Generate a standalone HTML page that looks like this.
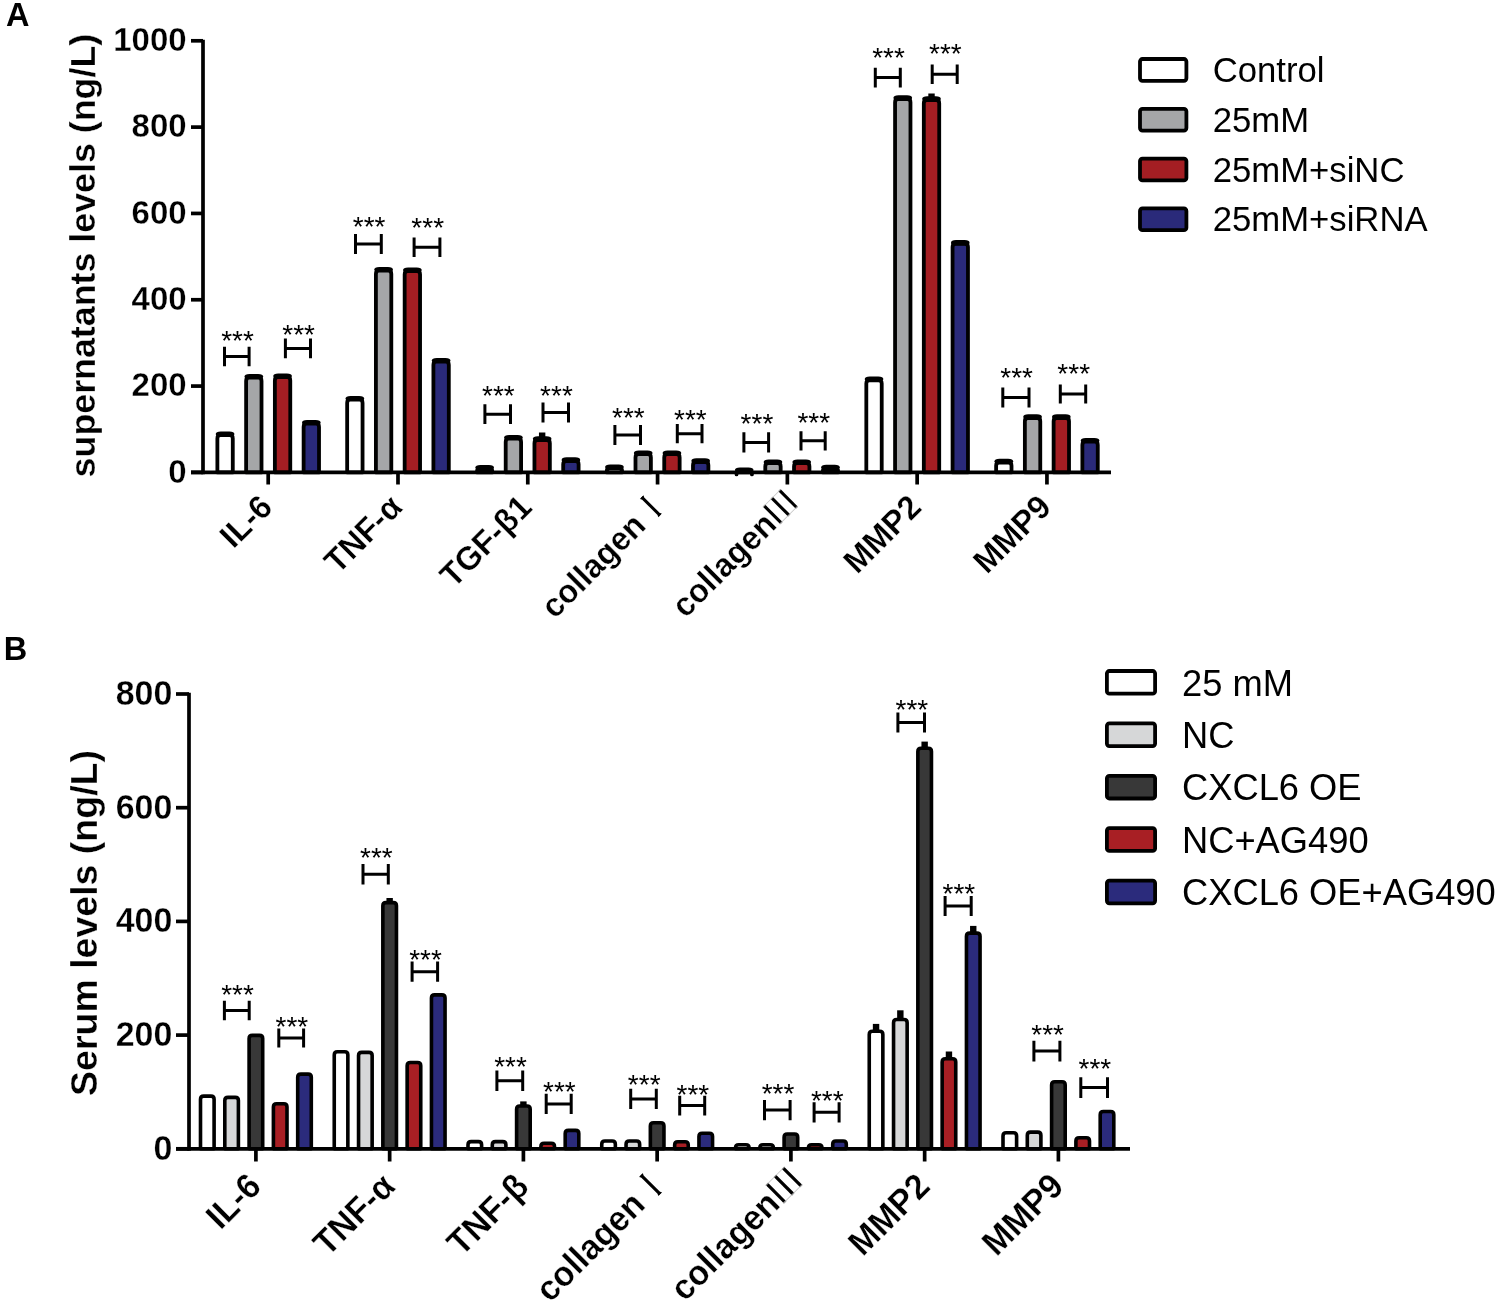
<!DOCTYPE html>
<html><head><meta charset="utf-8"><title>chart</title>
<style>
html,body{margin:0;padding:0;background:#fff;width:1500px;height:1305px;overflow:hidden;}
svg{display:block;filter:blur(0.45px);}
</style></head><body>
<svg width="1500" height="1305" viewBox="0 0 1500 1305">
<rect width="1500" height="1305" fill="#fff"/>
<text x="6" y="26.2" font-family="'Liberation Sans', sans-serif" font-weight="bold" font-size="32.5" fill="#000">A</text>
<line x1="191" y1="472.4" x2="203" y2="472.4" stroke="#000" stroke-width="3.7" stroke-linecap="butt"/>
<text x="186.6" y="482.7" font-family="'Liberation Sans', sans-serif" font-weight="bold" stroke="#fff" stroke-width="0.3" font-size="33" text-anchor="end" fill="#000" >0</text>
<line x1="191" y1="386.08" x2="203" y2="386.08" stroke="#000" stroke-width="3.7" stroke-linecap="butt"/>
<text x="186.6" y="396.38" font-family="'Liberation Sans', sans-serif" font-weight="bold" stroke="#fff" stroke-width="0.3" font-size="33" text-anchor="end" fill="#000" >200</text>
<line x1="191" y1="299.76" x2="203" y2="299.76" stroke="#000" stroke-width="3.7" stroke-linecap="butt"/>
<text x="186.6" y="310.06" font-family="'Liberation Sans', sans-serif" font-weight="bold" stroke="#fff" stroke-width="0.3" font-size="33" text-anchor="end" fill="#000" >400</text>
<line x1="191" y1="213.44" x2="203" y2="213.44" stroke="#000" stroke-width="3.7" stroke-linecap="butt"/>
<text x="186.6" y="223.74" font-family="'Liberation Sans', sans-serif" font-weight="bold" stroke="#fff" stroke-width="0.3" font-size="33" text-anchor="end" fill="#000" >600</text>
<line x1="191" y1="127.12" x2="203" y2="127.12" stroke="#000" stroke-width="3.7" stroke-linecap="butt"/>
<text x="186.6" y="137.42" font-family="'Liberation Sans', sans-serif" font-weight="bold" stroke="#fff" stroke-width="0.3" font-size="33" text-anchor="end" fill="#000" >800</text>
<line x1="191" y1="40.8" x2="203" y2="40.8" stroke="#000" stroke-width="3.7" stroke-linecap="butt"/>
<text x="186.6" y="51.1" font-family="'Liberation Sans', sans-serif" font-weight="bold" stroke="#fff" stroke-width="0.3" font-size="33" text-anchor="end" fill="#000" >1000</text>
<text x="0" y="0" font-family="'Liberation Sans', sans-serif" font-weight="bold" stroke="#fff" stroke-width="0.3" font-size="35.8" text-anchor="middle" fill="#000" transform="translate(94.5,255.6) rotate(-90)">supernatants levels (ng/L)</text>
<path d="M217.38,472.4 V438.4 Q217.38,435.2 220.57,435.2 H229.58 Q232.78,435.2 232.78,438.4 V472.4 Z" fill="#ffffff" stroke="#000" stroke-width="3.8" stroke-linejoin="round"/>
<rect x="215.78" y="431.4" width="18.6" height="5.2" rx="5" ry="3.6" fill="#000"/>
<path d="M246.12,472.4 V380.9 Q246.12,377.7 249.32,377.7 H258.32 Q261.52,377.7 261.52,380.9 V472.4 Z" fill="#a5a6a8" stroke="#000" stroke-width="3.8" stroke-linejoin="round"/>
<rect x="244.53" y="373.9" width="18.6" height="5.2" rx="5" ry="3.6" fill="#000"/>
<path d="M274.87,472.4 V380.4 Q274.87,377.2 278.07,377.2 H287.07 Q290.27,377.2 290.27,380.4 V472.4 Z" fill="#a41e23" stroke="#000" stroke-width="3.8" stroke-linejoin="round"/>
<rect x="273.27" y="373.4" width="18.6" height="5.2" rx="5" ry="3.6" fill="#000"/>
<path d="M303.62,472.4 V426.9 Q303.62,423.7 306.82,423.7 H315.82 Q319.02,423.7 319.02,426.9 V472.4 Z" fill="#2a2a7a" stroke="#000" stroke-width="3.8" stroke-linejoin="round"/>
<rect x="302.02" y="419.9" width="18.6" height="5.2" rx="5" ry="3.6" fill="#000"/>
<path d="M347.16,472.4 V402.9 Q347.16,399.7 350.36,399.7 H359.36 Q362.56,399.7 362.56,402.9 V472.4 Z" fill="#ffffff" stroke="#000" stroke-width="3.8" stroke-linejoin="round"/>
<rect x="345.56" y="395.9" width="18.6" height="5.2" rx="5" ry="3.6" fill="#000"/>
<path d="M375.91,472.4 V273.9 Q375.91,270.7 379.11,270.7 H388.11 Q391.31,270.7 391.31,273.9 V472.4 Z" fill="#a5a6a8" stroke="#000" stroke-width="3.8" stroke-linejoin="round"/>
<rect x="374.31" y="266.9" width="18.6" height="5.2" rx="5" ry="3.6" fill="#000"/>
<path d="M404.66,472.4 V274.4 Q404.66,271.2 407.86,271.2 H416.86 Q420.06,271.2 420.06,274.4 V472.4 Z" fill="#a41e23" stroke="#000" stroke-width="3.8" stroke-linejoin="round"/>
<rect x="403.06" y="267.4" width="18.6" height="5.2" rx="5" ry="3.6" fill="#000"/>
<path d="M433.41,472.4 V364.9 Q433.41,361.7 436.61,361.7 H445.61 Q448.81,361.7 448.81,364.9 V472.4 Z" fill="#2a2a7a" stroke="#000" stroke-width="3.8" stroke-linejoin="round"/>
<rect x="431.81" y="357.9" width="18.6" height="5.2" rx="5" ry="3.6" fill="#000"/>
<path d="M476.95,472.4 V471.9 Q476.95,468.7 480.15,468.7 H489.15 Q492.35,468.7 492.35,471.9 V472.4 Z" fill="#ffffff" stroke="#000" stroke-width="3.8" stroke-linejoin="round"/>
<rect x="475.35" y="464.9" width="18.6" height="5.2" rx="5" ry="3.6" fill="#000"/>
<path d="M505.7,472.4 V441.9 Q505.7,438.7 508.9,438.7 H517.9 Q521.1,438.7 521.1,441.9 V472.4 Z" fill="#a5a6a8" stroke="#000" stroke-width="3.8" stroke-linejoin="round"/>
<rect x="504.1" y="434.9" width="18.6" height="5.2" rx="5" ry="3.6" fill="#000"/>
<path d="M534.45,472.4 V443.2 Q534.45,440 537.65,440 H546.65 Q549.85,440 549.85,443.2 V472.4 Z" fill="#a41e23" stroke="#000" stroke-width="3.8" stroke-linejoin="round"/>
<rect x="532.85" y="436.2" width="18.6" height="5.2" rx="5" ry="3.6" fill="#000"/>
<rect x="538.95" y="432.5" width="6.4" height="8.5" fill="#000"/>
<path d="M563.2,472.4 V464.3 Q563.2,461.1 566.4,461.1 H575.4 Q578.6,461.1 578.6,464.3 V472.4 Z" fill="#2a2a7a" stroke="#000" stroke-width="3.8" stroke-linejoin="round"/>
<rect x="561.6" y="457.3" width="18.6" height="5.2" rx="5" ry="3.6" fill="#000"/>
<path d="M606.74,472.4 V471.4 Q606.74,468.2 609.94,468.2 H618.94 Q622.14,468.2 622.14,471.4 V472.4 Z" fill="#ffffff" stroke="#000" stroke-width="3.8" stroke-linejoin="round"/>
<rect x="605.14" y="464.4" width="18.6" height="5.2" rx="5" ry="3.6" fill="#000"/>
<path d="M635.49,472.4 V457.4 Q635.49,454.2 638.69,454.2 H647.69 Q650.89,454.2 650.89,457.4 V472.4 Z" fill="#a5a6a8" stroke="#000" stroke-width="3.8" stroke-linejoin="round"/>
<rect x="633.89" y="450.4" width="18.6" height="5.2" rx="5" ry="3.6" fill="#000"/>
<path d="M664.24,472.4 V457.4 Q664.24,454.2 667.44,454.2 H676.44 Q679.64,454.2 679.64,457.4 V472.4 Z" fill="#a41e23" stroke="#000" stroke-width="3.8" stroke-linejoin="round"/>
<rect x="662.64" y="450.4" width="18.6" height="5.2" rx="5" ry="3.6" fill="#000"/>
<path d="M692.99,472.4 V465.2 Q692.99,462 696.19,462 H705.19 Q708.39,462 708.39,465.2 V472.4 Z" fill="#2a2a7a" stroke="#000" stroke-width="3.8" stroke-linejoin="round"/>
<rect x="691.39" y="458.2" width="18.6" height="5.2" rx="5" ry="3.6" fill="#000"/>
<path d="M736.53,472.4 V474.4 Q736.53,471.2 739.73,471.2 H748.73 Q751.93,471.2 751.93,474.4 V472.4 Z" fill="#ffffff" stroke="#000" stroke-width="3.8" stroke-linejoin="round"/>
<rect x="734.93" y="467.4" width="18.6" height="5.2" rx="5" ry="3.6" fill="#000"/>
<path d="M765.28,472.4 V466.4 Q765.28,463.2 768.48,463.2 H777.48 Q780.68,463.2 780.68,466.4 V472.4 Z" fill="#a5a6a8" stroke="#000" stroke-width="3.8" stroke-linejoin="round"/>
<rect x="763.68" y="459.4" width="18.6" height="5.2" rx="5" ry="3.6" fill="#000"/>
<path d="M794.03,472.4 V466.4 Q794.03,463.2 797.23,463.2 H806.23 Q809.43,463.2 809.43,466.4 V472.4 Z" fill="#a41e23" stroke="#000" stroke-width="3.8" stroke-linejoin="round"/>
<rect x="792.43" y="459.4" width="18.6" height="5.2" rx="5" ry="3.6" fill="#000"/>
<path d="M822.78,472.4 V471.7 Q822.78,468.5 825.98,468.5 H834.98 Q838.18,468.5 838.18,471.7 V472.4 Z" fill="#2a2a7a" stroke="#000" stroke-width="3.8" stroke-linejoin="round"/>
<rect x="821.18" y="464.7" width="18.6" height="5.2" rx="5" ry="3.6" fill="#000"/>
<path d="M866.32,472.4 V383.5 Q866.32,380.3 869.52,380.3 H878.52 Q881.72,380.3 881.72,383.5 V472.4 Z" fill="#ffffff" stroke="#000" stroke-width="3.8" stroke-linejoin="round"/>
<rect x="864.72" y="376.5" width="18.6" height="5.2" rx="5" ry="3.6" fill="#000"/>
<path d="M895.07,472.4 V102.2 Q895.07,99 898.27,99 H907.27 Q910.47,99 910.47,102.2 V472.4 Z" fill="#a5a6a8" stroke="#000" stroke-width="3.8" stroke-linejoin="round"/>
<rect x="893.47" y="95.2" width="18.6" height="5.2" rx="5" ry="3.6" fill="#000"/>
<path d="M923.82,472.4 V103.2 Q923.82,100 927.02,100 H936.02 Q939.22,100 939.22,103.2 V472.4 Z" fill="#a41e23" stroke="#000" stroke-width="3.8" stroke-linejoin="round"/>
<rect x="922.22" y="96.2" width="18.6" height="5.2" rx="5" ry="3.6" fill="#000"/>
<rect x="928.32" y="93.5" width="6.4" height="7.5" fill="#000"/>
<path d="M952.57,472.4 V247.1 Q952.57,243.9 955.77,243.9 H964.77 Q967.97,243.9 967.97,247.1 V472.4 Z" fill="#2a2a7a" stroke="#000" stroke-width="3.8" stroke-linejoin="round"/>
<rect x="950.97" y="240.1" width="18.6" height="5.2" rx="5" ry="3.6" fill="#000"/>
<path d="M996.12,472.4 V465.7 Q996.12,462.5 999.32,462.5 H1008.31 Q1011.51,462.5 1011.51,465.7 V472.4 Z" fill="#ffffff" stroke="#000" stroke-width="3.8" stroke-linejoin="round"/>
<rect x="994.51" y="458.7" width="18.6" height="5.2" rx="5" ry="3.6" fill="#000"/>
<path d="M1024.87,472.4 V421.2 Q1024.87,418 1028.07,418 H1037.07 Q1040.27,418 1040.27,421.2 V472.4 Z" fill="#a5a6a8" stroke="#000" stroke-width="3.8" stroke-linejoin="round"/>
<rect x="1023.26" y="414.2" width="18.6" height="5.2" rx="5" ry="3.6" fill="#000"/>
<path d="M1053.62,472.4 V421.2 Q1053.62,418 1056.82,418 H1065.82 Q1069.02,418 1069.02,421.2 V472.4 Z" fill="#a41e23" stroke="#000" stroke-width="3.8" stroke-linejoin="round"/>
<rect x="1052.02" y="414.2" width="18.6" height="5.2" rx="5" ry="3.6" fill="#000"/>
<path d="M1082.37,472.4 V444.9 Q1082.37,441.7 1085.57,441.7 H1094.57 Q1097.77,441.7 1097.77,444.9 V472.4 Z" fill="#2a2a7a" stroke="#000" stroke-width="3.8" stroke-linejoin="round"/>
<rect x="1080.77" y="437.9" width="18.6" height="5.2" rx="5" ry="3.6" fill="#000"/>
<line x1="203" y1="39.85" x2="203" y2="474.25" stroke="#000" stroke-width="3.7" stroke-linecap="butt"/>
<line x1="191" y1="472.4" x2="1111" y2="472.4" stroke="#000" stroke-width="3.7" stroke-linecap="butt"/>
<line x1="268.2" y1="472.4" x2="268.2" y2="484.5" stroke="#000" stroke-width="3.7" stroke-linecap="butt"/>
<line x1="397.99" y1="472.4" x2="397.99" y2="484.5" stroke="#000" stroke-width="3.7" stroke-linecap="butt"/>
<line x1="527.78" y1="472.4" x2="527.78" y2="484.5" stroke="#000" stroke-width="3.7" stroke-linecap="butt"/>
<line x1="657.57" y1="472.4" x2="657.57" y2="484.5" stroke="#000" stroke-width="3.7" stroke-linecap="butt"/>
<line x1="787.36" y1="472.4" x2="787.36" y2="484.5" stroke="#000" stroke-width="3.7" stroke-linecap="butt"/>
<line x1="917.15" y1="472.4" x2="917.15" y2="484.5" stroke="#000" stroke-width="3.7" stroke-linecap="butt"/>
<line x1="1046.94" y1="472.4" x2="1046.94" y2="484.5" stroke="#000" stroke-width="3.7" stroke-linecap="butt"/>
<path d="M224.5,346.7 V366.2 M249.1,346.7 V366.2 M224.5,356.45 H249.1" fill="none" stroke="#000" stroke-width="3"/>
<text x="237.5" y="349.92" font-family="'Liberation Sans', sans-serif" font-size="28" text-anchor="middle" fill="#000">***</text>
<path d="M285.4,338.6 V358.2 M310.5,338.6 V358.2 M285.4,348.4 H310.5" fill="none" stroke="#000" stroke-width="3"/>
<text x="298.65" y="344.12" font-family="'Liberation Sans', sans-serif" font-size="28" text-anchor="middle" fill="#000">***</text>
<path d="M355.5,234 V254 M381.3,234 V254 M355.5,244 H381.3" fill="none" stroke="#000" stroke-width="3"/>
<text x="369.1" y="236.12" font-family="'Liberation Sans', sans-serif" font-size="28" text-anchor="middle" fill="#000">***</text>
<path d="M414.1,237.5 V257 M439.9,237.5 V257 M414.1,247.25 H439.9" fill="none" stroke="#000" stroke-width="3"/>
<text x="427.7" y="237.32" font-family="'Liberation Sans', sans-serif" font-size="28" text-anchor="middle" fill="#000">***</text>
<path d="M484.9,404.2 V424.1 M510.5,404.2 V424.1 M484.9,414.15 H510.5" fill="none" stroke="#000" stroke-width="3"/>
<text x="498.4" y="405.32" font-family="'Liberation Sans', sans-serif" font-size="28" text-anchor="middle" fill="#000">***</text>
<path d="M543,402.5 V422.4 M568.5,402.5 V422.4 M543,412.45 H568.5" fill="none" stroke="#000" stroke-width="3"/>
<text x="556.45" y="405.32" font-family="'Liberation Sans', sans-serif" font-size="28" text-anchor="middle" fill="#000">***</text>
<path d="M614.9,425 V444.9 M640.5,425 V444.9 M614.9,434.95 H640.5" fill="none" stroke="#000" stroke-width="3"/>
<text x="628.4" y="427.02" font-family="'Liberation Sans', sans-serif" font-size="28" text-anchor="middle" fill="#000">***</text>
<path d="M677.3,424.1 V443.2 M702,424.1 V443.2 M677.3,433.65 H702" fill="none" stroke="#000" stroke-width="3"/>
<text x="690.35" y="428.72" font-family="'Liberation Sans', sans-serif" font-size="28" text-anchor="middle" fill="#000">***</text>
<path d="M743.9,432.3 V452.5 M768.6,432.3 V452.5 M743.9,442.4 H768.6" fill="none" stroke="#000" stroke-width="3"/>
<text x="756.95" y="433.42" font-family="'Liberation Sans', sans-serif" font-size="28" text-anchor="middle" fill="#000">***</text>
<path d="M801,431.2 V450.4 M825.2,431.2 V450.4 M801,440.8 H825.2" fill="none" stroke="#000" stroke-width="3"/>
<text x="813.8" y="432.32" font-family="'Liberation Sans', sans-serif" font-size="28" text-anchor="middle" fill="#000">***</text>
<path d="M875.3,67.8 V87.4 M900.3,67.8 V87.4 M875.3,77.6 H900.3" fill="none" stroke="#000" stroke-width="3"/>
<text x="888.5" y="66.62" font-family="'Liberation Sans', sans-serif" font-size="28" text-anchor="middle" fill="#000">***</text>
<path d="M932.2,64.5 V84.1 M957.2,64.5 V84.1 M932.2,74.3 H957.2" fill="none" stroke="#000" stroke-width="3"/>
<text x="945.4" y="63.32" font-family="'Liberation Sans', sans-serif" font-size="28" text-anchor="middle" fill="#000">***</text>
<path d="M1002.8,387.5 V407.4 M1029,387.5 V407.4 M1002.8,397.45 H1029" fill="none" stroke="#000" stroke-width="3"/>
<text x="1016.6" y="386.92" font-family="'Liberation Sans', sans-serif" font-size="28" text-anchor="middle" fill="#000">***</text>
<path d="M1060.3,384.4 V403.6 M1085.7,384.4 V403.6 M1060.3,394 H1085.7" fill="none" stroke="#000" stroke-width="3"/>
<text x="1073.7" y="383.12" font-family="'Liberation Sans', sans-serif" font-size="28" text-anchor="middle" fill="#000">***</text>
<g transform="translate(274.2,509) rotate(-45)"><g transform="scale(0.97,1)"><text x="0" y="0" font-family="'Liberation Sans', sans-serif" font-weight="bold" stroke="#fff" stroke-width="0.3" font-size="33.3" text-anchor="end" fill="#000">IL-6</text></g></g>
<g transform="translate(403.99,509) rotate(-45)"><g transform="scale(0.97,1)"><text x="0" y="0" font-family="'Liberation Sans', sans-serif" font-weight="bold" stroke="#fff" stroke-width="0.3" font-size="33.3" text-anchor="end" fill="#000">TNF-α</text></g></g>
<g transform="translate(533.78,509) rotate(-45)"><g transform="scale(0.97,1)"><text x="0" y="0" font-family="'Liberation Sans', sans-serif" font-weight="bold" stroke="#fff" stroke-width="0.3" font-size="33.3" text-anchor="end" fill="#000">TGF-β1</text></g></g>
<g transform="translate(663.57,511) rotate(-45)"><g transform="scale(0.97,1)"><text x="-23.59" y="0" font-family="'Liberation Sans', sans-serif" font-weight="bold" stroke="#fff" stroke-width="0.3" font-size="33.3" text-anchor="end" fill="#000">collagen</text></g><rect x="-7.1" y="-25.3" width="3" height="25.9" fill="#000"/><path d="M-8.2,-25.3 H-3 L-4.1,-23.5 H-7.1 Z" fill="#000"/><path d="M-8.2,0.6 H-3 L-4.1,-1.2 H-7.1 Z" fill="#000"/></g>
<g transform="translate(793.36,511) rotate(-45)"><g transform="scale(0.97,1)"><text x="-22.26" y="0" font-family="'Liberation Sans', sans-serif" font-weight="bold" stroke="#fff" stroke-width="0.3" font-size="33.3" text-anchor="end" fill="#000">collagen</text></g><rect x="-18.55" y="-24.6" width="3.1" height="24.8" fill="#000"/><rect x="-7.65" y="-24.6" width="3.1" height="24.8" fill="#000"/><rect x="3.25" y="-24.6" width="3.1" height="24.8" fill="#000"/><rect x="-19" y="-24.6" width="25.6" height="0.8" fill="#c4c4c4"/><rect x="-19" y="-0.8" width="25.6" height="0.8" fill="#c4c4c4"/></g>
<g transform="translate(923.15,509) rotate(-45)"><g transform="scale(0.97,1)"><text x="0" y="0" font-family="'Liberation Sans', sans-serif" font-weight="bold" stroke="#fff" stroke-width="0.3" font-size="33.3" text-anchor="end" fill="#000">MMP2</text></g></g>
<g transform="translate(1052.94,509) rotate(-45)"><g transform="scale(0.97,1)"><text x="0" y="0" font-family="'Liberation Sans', sans-serif" font-weight="bold" stroke="#fff" stroke-width="0.3" font-size="33.3" text-anchor="end" fill="#000">MMP9</text></g></g>
<rect x="1140" y="59" width="46.4" height="21.8" rx="2.5" fill="#ffffff" stroke="#000" stroke-width="3.8"/>
<text x="1212.7" y="82" font-family="'Liberation Sans', sans-serif" font-size="34.7" text-anchor="start" fill="#000" >Control</text>
<rect x="1140" y="108.8" width="46.4" height="21.8" rx="2.5" fill="#a5a6a8" stroke="#000" stroke-width="3.8"/>
<text x="1212.7" y="131.8" font-family="'Liberation Sans', sans-serif" font-size="34.7" text-anchor="start" fill="#000" >25mM</text>
<rect x="1140" y="158.6" width="46.4" height="21.8" rx="2.5" fill="#a41e23" stroke="#000" stroke-width="3.8"/>
<text x="1212.7" y="181.6" font-family="'Liberation Sans', sans-serif" font-size="34.7" text-anchor="start" fill="#000" >25mM+siNC</text>
<rect x="1140" y="208.4" width="46.4" height="21.8" rx="2.5" fill="#2a2a7a" stroke="#000" stroke-width="3.8"/>
<text x="1212.7" y="231.4" font-family="'Liberation Sans', sans-serif" font-size="34.7" text-anchor="start" fill="#000" >25mM+siRNA</text>
<text x="3.7" y="660" font-family="'Liberation Sans', sans-serif" font-weight="bold" font-size="32.5" fill="#000">B</text>
<line x1="176" y1="1148.8" x2="189" y2="1148.8" stroke="#000" stroke-width="3.7" stroke-linecap="butt"/>
<text x="0" y="0" font-family="'Liberation Sans', sans-serif" font-weight="bold" stroke="#fff" stroke-width="0.3" font-size="35" text-anchor="end" fill="#000" transform="translate(172.3,1159.8) scale(0.97,1)">0</text>
<line x1="176" y1="1035.1" x2="189" y2="1035.1" stroke="#000" stroke-width="3.7" stroke-linecap="butt"/>
<text x="0" y="0" font-family="'Liberation Sans', sans-serif" font-weight="bold" stroke="#fff" stroke-width="0.3" font-size="35" text-anchor="end" fill="#000" transform="translate(172.3,1046.1) scale(0.97,1)">200</text>
<line x1="176" y1="921.4" x2="189" y2="921.4" stroke="#000" stroke-width="3.7" stroke-linecap="butt"/>
<text x="0" y="0" font-family="'Liberation Sans', sans-serif" font-weight="bold" stroke="#fff" stroke-width="0.3" font-size="35" text-anchor="end" fill="#000" transform="translate(172.3,932.4) scale(0.97,1)">400</text>
<line x1="176" y1="807.7" x2="189" y2="807.7" stroke="#000" stroke-width="3.7" stroke-linecap="butt"/>
<text x="0" y="0" font-family="'Liberation Sans', sans-serif" font-weight="bold" stroke="#fff" stroke-width="0.3" font-size="35" text-anchor="end" fill="#000" transform="translate(172.3,818.7) scale(0.97,1)">600</text>
<line x1="176" y1="694" x2="189" y2="694" stroke="#000" stroke-width="3.7" stroke-linecap="butt"/>
<text x="0" y="0" font-family="'Liberation Sans', sans-serif" font-weight="bold" stroke="#fff" stroke-width="0.3" font-size="35" text-anchor="end" fill="#000" transform="translate(172.3,705) scale(0.97,1)">800</text>
<text x="0" y="0" font-family="'Liberation Sans', sans-serif" font-weight="bold" stroke="#fff" stroke-width="0.3" font-size="37.5" text-anchor="middle" fill="#000" transform="translate(96.5,923) rotate(-90)">Serum levels (ng/L)</text>
<path d="M200.5,1148.8 V1099.3 Q200.5,1096.1 203.7,1096.1 H210.9 Q214.1,1096.1 214.1,1099.3 V1148.8 Z" fill="#ffffff" stroke="#000" stroke-width="3.6" stroke-linejoin="round"/>
<path d="M224.8,1148.8 V1100.6 Q224.8,1097.4 228,1097.4 H235.2 Q238.4,1097.4 238.4,1100.6 V1148.8 Z" fill="#d6d7d8" stroke="#000" stroke-width="3.6" stroke-linejoin="round"/>
<path d="M249.1,1148.8 V1038.6 Q249.1,1035.4 252.3,1035.4 H259.5 Q262.7,1035.4 262.7,1038.6 V1148.8 Z" fill="#383838" stroke="#000" stroke-width="3.6" stroke-linejoin="round"/>
<path d="M273.4,1148.8 V1106.9 Q273.4,1103.7 276.6,1103.7 H283.8 Q287,1103.7 287,1106.9 V1148.8 Z" fill="#a81f24" stroke="#000" stroke-width="3.6" stroke-linejoin="round"/>
<path d="M297.7,1148.8 V1077.3 Q297.7,1074.1 300.9,1074.1 H308.1 Q311.3,1074.1 311.3,1077.3 V1148.8 Z" fill="#2b2b7c" stroke="#000" stroke-width="3.6" stroke-linejoin="round"/>
<path d="M334.25,1148.8 V1055 Q334.25,1051.8 337.45,1051.8 H344.65 Q347.85,1051.8 347.85,1055 V1148.8 Z" fill="#ffffff" stroke="#000" stroke-width="3.6" stroke-linejoin="round"/>
<path d="M358.55,1148.8 V1055.6 Q358.55,1052.4 361.75,1052.4 H368.95 Q372.15,1052.4 372.15,1055.6 V1148.8 Z" fill="#d6d7d8" stroke="#000" stroke-width="3.6" stroke-linejoin="round"/>
<path d="M382.85,1148.8 V905.8 Q382.85,902.6 386.05,902.6 H393.25 Q396.45,902.6 396.45,905.8 V1148.8 Z" fill="#383838" stroke="#000" stroke-width="3.6" stroke-linejoin="round"/>
<rect x="386.45" y="898" width="6.4" height="5.6" fill="#000"/>
<path d="M407.15,1148.8 V1065.7 Q407.15,1062.5 410.35,1062.5 H417.55 Q420.75,1062.5 420.75,1065.7 V1148.8 Z" fill="#a81f24" stroke="#000" stroke-width="3.6" stroke-linejoin="round"/>
<path d="M431.45,1148.8 V998.1 Q431.45,994.9 434.65,994.9 H441.85 Q445.05,994.9 445.05,998.1 V1148.8 Z" fill="#2b2b7c" stroke="#000" stroke-width="3.6" stroke-linejoin="round"/>
<path d="M468,1148.8 V1144.8 Q468,1141.6 471.2,1141.6 H478.4 Q481.6,1141.6 481.6,1144.8 V1148.8 Z" fill="#ffffff" stroke="#000" stroke-width="3.6" stroke-linejoin="round"/>
<path d="M492.3,1148.8 V1144.8 Q492.3,1141.6 495.5,1141.6 H502.7 Q505.9,1141.6 505.9,1144.8 V1148.8 Z" fill="#d6d7d8" stroke="#000" stroke-width="3.6" stroke-linejoin="round"/>
<path d="M516.6,1148.8 V1109.2 Q516.6,1106 519.8,1106 H527 Q530.2,1106 530.2,1109.2 V1148.8 Z" fill="#383838" stroke="#000" stroke-width="3.6" stroke-linejoin="round"/>
<rect x="520.2" y="1101.4" width="6.4" height="5.6" fill="#000"/>
<path d="M540.9,1148.8 V1146.5 Q540.9,1143.3 544.1,1143.3 H551.3 Q554.5,1143.3 554.5,1146.5 V1148.8 Z" fill="#a81f24" stroke="#000" stroke-width="3.6" stroke-linejoin="round"/>
<path d="M565.2,1148.8 V1133.6 Q565.2,1130.4 568.4,1130.4 H575.6 Q578.8,1130.4 578.8,1133.6 V1148.8 Z" fill="#2b2b7c" stroke="#000" stroke-width="3.6" stroke-linejoin="round"/>
<path d="M601.75,1148.8 V1144.2 Q601.75,1141 604.95,1141 H612.15 Q615.35,1141 615.35,1144.2 V1148.8 Z" fill="#ffffff" stroke="#000" stroke-width="3.6" stroke-linejoin="round"/>
<path d="M626.05,1148.8 V1144.2 Q626.05,1141 629.25,1141 H636.45 Q639.65,1141 639.65,1144.2 V1148.8 Z" fill="#d6d7d8" stroke="#000" stroke-width="3.6" stroke-linejoin="round"/>
<path d="M650.35,1148.8 V1126 Q650.35,1122.8 653.55,1122.8 H660.75 Q663.95,1122.8 663.95,1126 V1148.8 Z" fill="#383838" stroke="#000" stroke-width="3.6" stroke-linejoin="round"/>
<path d="M674.65,1148.8 V1145 Q674.65,1141.8 677.85,1141.8 H685.05 Q688.25,1141.8 688.25,1145 V1148.8 Z" fill="#a81f24" stroke="#000" stroke-width="3.6" stroke-linejoin="round"/>
<path d="M698.95,1148.8 V1136.4 Q698.95,1133.2 702.15,1133.2 H709.35 Q712.55,1133.2 712.55,1136.4 V1148.8 Z" fill="#2b2b7c" stroke="#000" stroke-width="3.6" stroke-linejoin="round"/>
<path d="M735.5,1148.8 V1147.9 Q735.5,1144.7 738.7,1144.7 H745.9 Q749.1,1144.7 749.1,1147.9 V1148.8 Z" fill="#ffffff" stroke="#000" stroke-width="3.6" stroke-linejoin="round"/>
<path d="M759.8,1148.8 V1147.9 Q759.8,1144.7 763,1144.7 H770.2 Q773.4,1144.7 773.4,1147.9 V1148.8 Z" fill="#d6d7d8" stroke="#000" stroke-width="3.6" stroke-linejoin="round"/>
<path d="M784.1,1148.8 V1137.2 Q784.1,1134 787.3,1134 H794.5 Q797.7,1134 797.7,1137.2 V1148.8 Z" fill="#383838" stroke="#000" stroke-width="3.6" stroke-linejoin="round"/>
<path d="M808.4,1148.8 V1148 Q808.4,1144.8 811.6,1144.8 H818.8 Q822,1144.8 822,1148 V1148.8 Z" fill="#a81f24" stroke="#000" stroke-width="3.6" stroke-linejoin="round"/>
<path d="M832.7,1148.8 V1144.2 Q832.7,1141 835.9,1141 H843.1 Q846.3,1141 846.3,1144.2 V1148.8 Z" fill="#2b2b7c" stroke="#000" stroke-width="3.6" stroke-linejoin="round"/>
<path d="M869.25,1148.8 V1034.4 Q869.25,1031.2 872.45,1031.2 H879.65 Q882.85,1031.2 882.85,1034.4 V1148.8 Z" fill="#ffffff" stroke="#000" stroke-width="3.6" stroke-linejoin="round"/>
<rect x="872.85" y="1023.9" width="6.4" height="8.3" fill="#000"/>
<path d="M893.55,1148.8 V1022.7 Q893.55,1019.5 896.75,1019.5 H903.95 Q907.15,1019.5 907.15,1022.7 V1148.8 Z" fill="#d6d7d8" stroke="#000" stroke-width="3.6" stroke-linejoin="round"/>
<rect x="897.15" y="1010.3" width="6.4" height="10.2" fill="#000"/>
<path d="M917.85,1148.8 V751.4 Q917.85,748.2 921.05,748.2 H928.25 Q931.45,748.2 931.45,751.4 V1148.8 Z" fill="#383838" stroke="#000" stroke-width="3.6" stroke-linejoin="round"/>
<rect x="921.45" y="741.6" width="6.4" height="7.6" fill="#000"/>
<path d="M942.15,1148.8 V1062 Q942.15,1058.8 945.35,1058.8 H952.55 Q955.75,1058.8 955.75,1062 V1148.8 Z" fill="#a81f24" stroke="#000" stroke-width="3.6" stroke-linejoin="round"/>
<rect x="945.75" y="1051.5" width="6.4" height="8.3" fill="#000"/>
<path d="M966.45,1148.8 V936.3 Q966.45,933.1 969.65,933.1 H976.85 Q980.05,933.1 980.05,936.3 V1148.8 Z" fill="#2b2b7c" stroke="#000" stroke-width="3.6" stroke-linejoin="round"/>
<rect x="970.05" y="925.9" width="6.4" height="8.2" fill="#000"/>
<path d="M1003,1148.8 V1136 Q1003,1132.8 1006.2,1132.8 H1013.4 Q1016.6,1132.8 1016.6,1136 V1148.8 Z" fill="#ffffff" stroke="#000" stroke-width="3.6" stroke-linejoin="round"/>
<path d="M1027.3,1148.8 V1135.3 Q1027.3,1132.1 1030.5,1132.1 H1037.7 Q1040.9,1132.1 1040.9,1135.3 V1148.8 Z" fill="#d6d7d8" stroke="#000" stroke-width="3.6" stroke-linejoin="round"/>
<path d="M1051.6,1148.8 V1085 Q1051.6,1081.8 1054.8,1081.8 H1062 Q1065.2,1081.8 1065.2,1085 V1148.8 Z" fill="#383838" stroke="#000" stroke-width="3.6" stroke-linejoin="round"/>
<path d="M1075.9,1148.8 V1140.9 Q1075.9,1137.7 1079.1,1137.7 H1086.3 Q1089.5,1137.7 1089.5,1140.9 V1148.8 Z" fill="#a81f24" stroke="#000" stroke-width="3.6" stroke-linejoin="round"/>
<path d="M1100.2,1148.8 V1114.7 Q1100.2,1111.5 1103.4,1111.5 H1110.6 Q1113.8,1111.5 1113.8,1114.7 V1148.8 Z" fill="#2b2b7c" stroke="#000" stroke-width="3.6" stroke-linejoin="round"/>
<line x1="189" y1="692.65" x2="189" y2="1150.65" stroke="#000" stroke-width="3.7" stroke-linecap="butt"/>
<line x1="176" y1="1148.8" x2="1130" y2="1148.8" stroke="#000" stroke-width="3.7" stroke-linecap="butt"/>
<line x1="255.9" y1="1148.8" x2="255.9" y2="1161.5" stroke="#000" stroke-width="3.7" stroke-linecap="butt"/>
<line x1="389.65" y1="1148.8" x2="389.65" y2="1161.5" stroke="#000" stroke-width="3.7" stroke-linecap="butt"/>
<line x1="523.4" y1="1148.8" x2="523.4" y2="1161.5" stroke="#000" stroke-width="3.7" stroke-linecap="butt"/>
<line x1="657.15" y1="1148.8" x2="657.15" y2="1161.5" stroke="#000" stroke-width="3.7" stroke-linecap="butt"/>
<line x1="790.9" y1="1148.8" x2="790.9" y2="1161.5" stroke="#000" stroke-width="3.7" stroke-linecap="butt"/>
<line x1="924.65" y1="1148.8" x2="924.65" y2="1161.5" stroke="#000" stroke-width="3.7" stroke-linecap="butt"/>
<line x1="1058.4" y1="1148.8" x2="1058.4" y2="1161.5" stroke="#000" stroke-width="3.7" stroke-linecap="butt"/>
<path d="M224.4,1000.7 V1020.2 M249.2,1000.7 V1020.2 M224.4,1010.45 H249.2" fill="none" stroke="#000" stroke-width="3"/>
<text x="237.5" y="1003.62" font-family="'Liberation Sans', sans-serif" font-size="28" text-anchor="middle" fill="#000">***</text>
<path d="M278.8,1028.6 V1047.5 M303.6,1028.6 V1047.5 M278.8,1038.05 H303.6" fill="none" stroke="#000" stroke-width="3"/>
<text x="291.9" y="1036.32" font-family="'Liberation Sans', sans-serif" font-size="28" text-anchor="middle" fill="#000">***</text>
<path d="M363,864.1 V884.4 M388.3,864.1 V884.4 M363,874.25 H388.3" fill="none" stroke="#000" stroke-width="3"/>
<text x="376.35" y="867.02" font-family="'Liberation Sans', sans-serif" font-size="28" text-anchor="middle" fill="#000">***</text>
<path d="M412.1,961.5 V981.8 M437.6,961.5 V981.8 M412.1,971.65 H437.6" fill="none" stroke="#000" stroke-width="3"/>
<text x="425.55" y="969.42" font-family="'Liberation Sans', sans-serif" font-size="28" text-anchor="middle" fill="#000">***</text>
<path d="M496.9,1070.6 V1091 M522.7,1070.6 V1091 M496.9,1080.8 H522.7" fill="none" stroke="#000" stroke-width="3"/>
<text x="510.5" y="1075.92" font-family="'Liberation Sans', sans-serif" font-size="28" text-anchor="middle" fill="#000">***</text>
<path d="M546.2,1093.8 V1114 M571.2,1093.8 V1114 M546.2,1103.9 H571.2" fill="none" stroke="#000" stroke-width="3"/>
<text x="559.4" y="1101.12" font-family="'Liberation Sans', sans-serif" font-size="28" text-anchor="middle" fill="#000">***</text>
<path d="M630.7,1088.8 V1109 M656.3,1088.8 V1109 M630.7,1098.9 H656.3" fill="none" stroke="#000" stroke-width="3"/>
<text x="644.2" y="1094.12" font-family="'Liberation Sans', sans-serif" font-size="28" text-anchor="middle" fill="#000">***</text>
<path d="M679.7,1095.8 V1115.4 M704.7,1095.8 V1115.4 M679.7,1105.6 H704.7" fill="none" stroke="#000" stroke-width="3"/>
<text x="692.9" y="1103.92" font-family="'Liberation Sans', sans-serif" font-size="28" text-anchor="middle" fill="#000">***</text>
<path d="M764.5,1100 V1120.2 M790.1,1100 V1120.2 M764.5,1110.1 H790.1" fill="none" stroke="#000" stroke-width="3"/>
<text x="778" y="1102.52" font-family="'Liberation Sans', sans-serif" font-size="28" text-anchor="middle" fill="#000">***</text>
<path d="M814.1,1102.2 V1122.4 M839.1,1102.2 V1122.4 M814.1,1112.3 H839.1" fill="none" stroke="#000" stroke-width="3"/>
<text x="827.3" y="1109.52" font-family="'Liberation Sans', sans-serif" font-size="28" text-anchor="middle" fill="#000">***</text>
<path d="M897.9,712.4 V732.4 M924.5,712.4 V732.4 M897.9,722.4 H924.5" fill="none" stroke="#000" stroke-width="3"/>
<text x="911.9" y="718.52" font-family="'Liberation Sans', sans-serif" font-size="28" text-anchor="middle" fill="#000">***</text>
<path d="M945.1,896 V915.9 M971.2,896 V915.9 M945.1,905.95 H971.2" fill="none" stroke="#000" stroke-width="3"/>
<text x="958.85" y="903.12" font-family="'Liberation Sans', sans-serif" font-size="28" text-anchor="middle" fill="#000">***</text>
<path d="M1033.9,1040.7 V1061.4 M1059.9,1040.7 V1061.4 M1033.9,1051.05 H1059.9" fill="none" stroke="#000" stroke-width="3"/>
<text x="1047.6" y="1044.12" font-family="'Liberation Sans', sans-serif" font-size="28" text-anchor="middle" fill="#000">***</text>
<path d="M1080.8,1077.2 V1097.9 M1107.5,1077.2 V1097.9 M1080.8,1087.55 H1107.5" fill="none" stroke="#000" stroke-width="3"/>
<text x="1094.85" y="1077.92" font-family="'Liberation Sans', sans-serif" font-size="28" text-anchor="middle" fill="#000">***</text>
<g transform="translate(263.1,1188.3) rotate(-45)"><g transform="scale(0.96,1)"><text x="0" y="0" font-family="'Liberation Sans', sans-serif" font-weight="bold" stroke="#fff" stroke-width="0.3" font-size="35.2" text-anchor="end" fill="#000">IL-6</text></g></g>
<g transform="translate(396.85,1188.3) rotate(-45)"><g transform="scale(0.96,1)"><text x="0" y="0" font-family="'Liberation Sans', sans-serif" font-weight="bold" stroke="#fff" stroke-width="0.3" font-size="35.2" text-anchor="end" fill="#000">TNF-α</text></g></g>
<g transform="translate(530.6,1188.3) rotate(-45)"><g transform="scale(0.96,1)"><text x="0" y="0" font-family="'Liberation Sans', sans-serif" font-weight="bold" stroke="#fff" stroke-width="0.3" font-size="35.2" text-anchor="end" fill="#000">TNF-β</text></g></g>
<g transform="translate(663.85,1189.6) rotate(-45)"><g transform="scale(0.96,1)"><text x="-24.93" y="0" font-family="'Liberation Sans', sans-serif" font-weight="bold" stroke="#fff" stroke-width="0.3" font-size="35.2" text-anchor="end" fill="#000">collagen</text></g><rect x="-7.43" y="-26.47" width="3.14" height="27.1" fill="#000"/><path d="M-8.58,-26.47 H-3.14 L-4.29,-24.58 H-7.43 Z" fill="#000"/><path d="M-8.58,0.63 H-3.14 L-4.29,-1.26 H-7.43 Z" fill="#000"/></g>
<g transform="translate(797.6,1189.6) rotate(-45)"><g transform="scale(0.96,1)"><text x="-23.52" y="0" font-family="'Liberation Sans', sans-serif" font-weight="bold" stroke="#fff" stroke-width="0.3" font-size="35.2" text-anchor="end" fill="#000">collagen</text></g><rect x="-19.41" y="-25.74" width="3.24" height="25.94" fill="#000"/><rect x="-8" y="-25.74" width="3.24" height="25.94" fill="#000"/><rect x="3.4" y="-25.74" width="3.24" height="25.94" fill="#000"/><rect x="-19.88" y="-25.74" width="26.78" height="0.84" fill="#c4c4c4"/><rect x="-19.88" y="-0.84" width="26.78" height="0.84" fill="#c4c4c4"/></g>
<g transform="translate(931.85,1188.3) rotate(-45)"><g transform="scale(0.96,1)"><text x="0" y="0" font-family="'Liberation Sans', sans-serif" font-weight="bold" stroke="#fff" stroke-width="0.3" font-size="35.2" text-anchor="end" fill="#000">MMP2</text></g></g>
<g transform="translate(1065.6,1188.3) rotate(-45)"><g transform="scale(0.96,1)"><text x="0" y="0" font-family="'Liberation Sans', sans-serif" font-weight="bold" stroke="#fff" stroke-width="0.3" font-size="35.2" text-anchor="end" fill="#000">MMP9</text></g></g>
<rect x="1106.9" y="671" width="48.2" height="22.7" rx="2.5" fill="#ffffff" stroke="#000" stroke-width="3.8"/>
<text x="1182" y="695.5" font-family="'Liberation Sans', sans-serif" font-size="36.3" text-anchor="start" fill="#000" >25 mM</text>
<rect x="1106.9" y="723.4" width="48.2" height="22.7" rx="2.5" fill="#d6d7d8" stroke="#000" stroke-width="3.8"/>
<text x="1182" y="747.9" font-family="'Liberation Sans', sans-serif" font-size="36.3" text-anchor="start" fill="#000" >NC</text>
<rect x="1106.9" y="775.8" width="48.2" height="22.7" rx="2.5" fill="#383838" stroke="#000" stroke-width="3.8"/>
<text x="1182" y="800.3" font-family="'Liberation Sans', sans-serif" font-size="36.3" text-anchor="start" fill="#000" >CXCL6 OE</text>
<rect x="1106.9" y="828.2" width="48.2" height="22.7" rx="2.5" fill="#a81f24" stroke="#000" stroke-width="3.8"/>
<text x="1182" y="852.7" font-family="'Liberation Sans', sans-serif" font-size="36.3" text-anchor="start" fill="#000" >NC+AG490</text>
<rect x="1106.9" y="880.6" width="48.2" height="22.7" rx="2.5" fill="#2b2b7c" stroke="#000" stroke-width="3.8"/>
<text x="1182" y="905.1" font-family="'Liberation Sans', sans-serif" font-size="36.3" text-anchor="start" fill="#000" >CXCL6 OE+AG490</text>
</svg>
</body></html>
